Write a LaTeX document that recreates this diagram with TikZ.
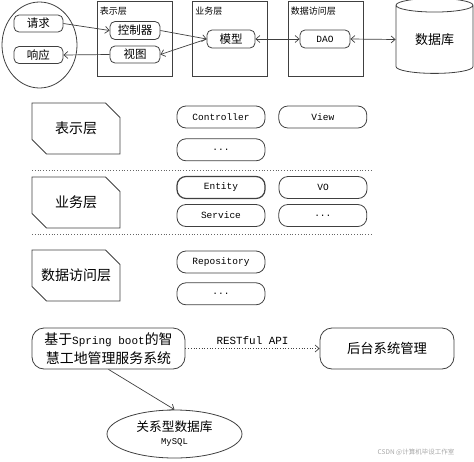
\documentclass[tikz,border=0pt]{standalone}
\usepackage{fontspec}
\setmainfont{Noto Sans CJK SC}
\setmonofont{Liberation Mono}
\usetikzlibrary{arrows.meta,positioning,shapes.geometric,shapes.misc}
\newcommand{\fs}[2]{\fontsize{#1}{#2}\selectfont}
\newcommand{\mono}[1]{{\ttfamily\fs{11}{13}#1}}
\tikzset{%
  >={Straight Barb[length=4pt,width=7pt]},
  % Specifications for style of nodes:
      base/.style = {draw=black!75, line width=0.8pt, inner sep=0pt},
      item/.style = {base, rectangle, rounded corners=5pt, minimum width=49pt,
                     minimum height=17pt, font=\fs{11.5}{13}},
     layer/.style = {base, rectangle, minimum width=75pt, minimum height=75pt},
  layertag/.style = {inner sep=0pt, font=\fs{9}{10}},
       tag/.style = {base, chamfered rectangle,
                     chamfered rectangle corners={north east,south west},
                     chamfered rectangle xsep=8pt, chamfered rectangle ysep=8pt,
                     minimum width=88pt, minimum height=51pt, font=\fs{14}{16}},
       cls/.style = {base, rectangle, rounded corners=9pt, minimum width=88pt,
                     minimum height=22pt, font=\ttfamily\fs{9.5}{11}},
      link/.style = {draw=black!75, line width=0.7pt},
       sep/.style = {draw=black!60, dotted, line width=0.8pt},
}
\begin{document}
\begin{tikzpicture}[x=1pt, y=-1pt]
  \useasboundingbox (0,0) rectangle (474,461);
  % Top: request flow through the layers
  \node (clnt)  [base, ellipse, minimum width=75pt, minimum height=86pt] at (39.5,45) {};
  \node (req)   [item] at (38.5,23.5) {请求};
  \node (resp)  [item] at (38.5,55)   {响应};
  \node (pres)  [layer] at (134.5,38.5) {};
  \node (presl) [layertag, below right=6pt and 3pt of pres.north west] {表示层};
  \node (ctrl)  [item, minimum width=50pt, minimum height=18pt] at (135,30.5) {控制器};
  \node (view)  [item, minimum width=50pt] at (135,54.5) {视图};
  \node (biz)   [layer] at (230,38.5) {};
  \node (bizl)  [layertag, below right=6pt and 3pt of biz.north west] {业务层};
  \node (model) [item, minimum width=48pt, minimum height=18pt] at (231,39) {模型};
  \node (data)  [layer] at (325.5,38.5) {};
  \node (datal) [layertag, below right=6pt and 3pt of data.north west] {数据访问层};
  \node (dao)   [item, minimum width=50pt, minimum height=18pt, font=\ttfamily\fs{9.5}{11}]
        at (325,39) {DAO};
  \node (db)    [base, cylinder, shape border rotate=90, aspect=0.35,
                 minimum width=77pt, minimum height=75pt, font=\fs{13}{15}]
        at (434.5,39.5) {数据库};

  \draw[->, link]  (req.east) -- (ctrl.west);
  \draw[->, link] (ctrl.east) -- (model.west);
  \draw[->, link] (model.west) -- (view.east);
  \draw[->, link] (view.west) -- (resp.east);
  \draw[<->, link] (model.east) -- (dao.west);
  \draw[<->, link]  (dao.east) -- (db.west);

  % Middle: layers and their classes
  \node (tagP)  [tag] at (76,128.5) {表示层};
  \node (ctl)   [cls] at (221,117) {Controller};
  \node (viw)   [cls, right=13pt of ctl] {View};
  \node (etc1)  [cls, below=10pt of ctl] {...};
  \draw[sep] (32,170) -- (371,170);
  \node (tagB)  [tag] at (76,202.5) {业务层};
  \node (ent)   [cls, line width=1.2pt] at (221,187.5) {Entity};
  \node (vo)    [cls, right=13pt of ent] {VO};
  \node (svc)   [cls, below=5pt of ent] {Service};
  \node (etc2)  [cls, right=13pt of svc] {...};
  \draw[sep] (32,234) -- (371,234);
  \node (tagD)  [tag] at (76,275.5) {数据访问层};
  \node (repo)  [cls] at (221,262) {Repository};
  \node (etc3)  [cls, below=9pt of repo] {...};

  % Bottom: system and its neighbours
  \node (spring) [base, rectangle, rounded corners=12pt, minimum width=153pt,
                  minimum height=41pt, align=center, font=\fs{13.9}{19}]
        at (108.5,348.5) {基于\mono{Spring boot}的智\\慧工地管理服务系统};
  \node (admin)  [base, rectangle, rounded corners=12pt, minimum width=134pt,
                  minimum height=41pt, font=\fs{13.3}{15}]
        at (387,348.5) {后台系统管理};
  \node (mysql)  [base, ellipse, minimum width=135pt, minimum height=48pt,
                  align=center, font=\fs{12.7}{13}]
        at (174.5,434) {关系型数据库\\{\ttfamily\fs{8.9}{10}MySQL}};
  \node (mark)   [font=\fs{6.5}{7}, text=black!35] at (416,452) {CSDN @计算机毕设工作室};

  \draw[->, link, dotted] (spring) -- node[above, inner sep=4pt, font=\ttfamily\fs{10.9}{12}]
       {RESTful API} (admin);
  \draw[->, link] (spring.south) -- (mysql.north);
\end{tikzpicture}
\end{document}
